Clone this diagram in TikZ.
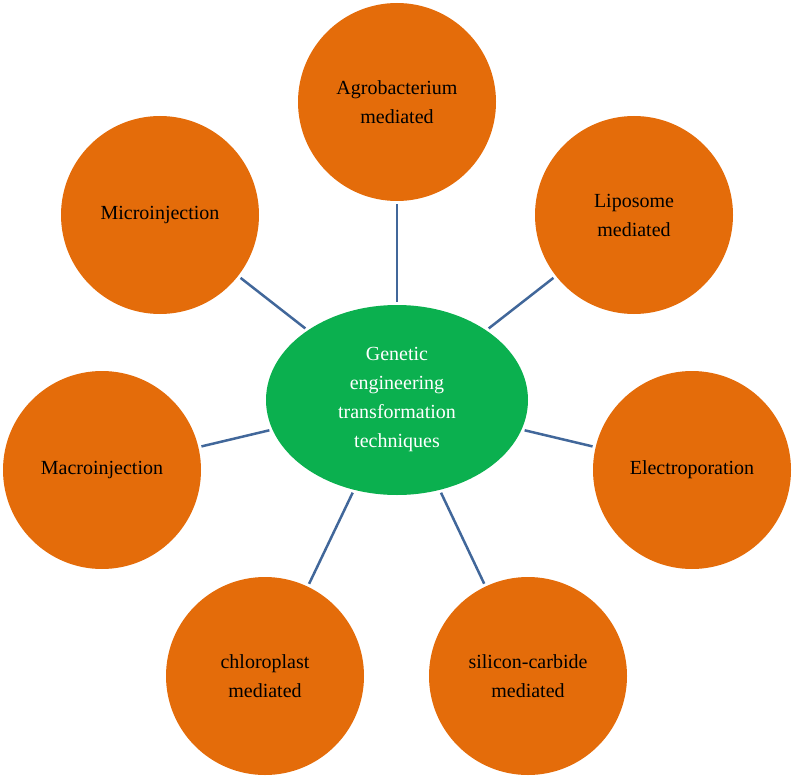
\documentclass[tikz,border=0pt]{standalone}
\usepackage{fontspec}
\setmainfont{Liberation Serif}
\usetikzlibrary{shapes.geometric}
\definecolor{org}{HTML}{E46C0A}
\definecolor{grn}{HTML}{0BB04F}
\definecolor{lnk}{HTML}{41679A}
\begin{document}
\begin{tikzpicture}[x=1pt,y=-1pt,
  c/.style={circle,fill=org,minimum size=198pt,inner sep=0pt,align=center,font=\fontsize{20}{29}\selectfont},
  e/.style={ellipse,fill=grn,minimum width=262pt,minimum height=190pt,inner sep=0pt,align=center,text=white,font=\fontsize{20}{29}\selectfont},
  l/.style={draw=lnk,line width=2.5pt,shorten <=3pt,shorten >=3pt}]
\useasboundingbox (0,0) rectangle (795,778);
\node[e] (g) at (397,400) {Genetic\\engineering\\transformation\\techniques};
\node[c] (a) at (397,102) {Agrobacterium\\mediated};
\node[c] (li) at (634,215) {Liposome\\mediated};
\node[c] (el) at (692,470) {Electroporation};
\node[c] (si) at (528,676) {silicon-carbide\\mediated};
\node[c] (ch) at (265,676) {chloroplast\\mediated};
\node[c] (ma) at (102,470) {Macroinjection};
\node[c] (mi) at (160,215) {Microinjection};
\foreach \n in {a,li,el,si,ch,ma,mi} \draw[l] (g) -- (\n);
\end{tikzpicture}
\end{document}
